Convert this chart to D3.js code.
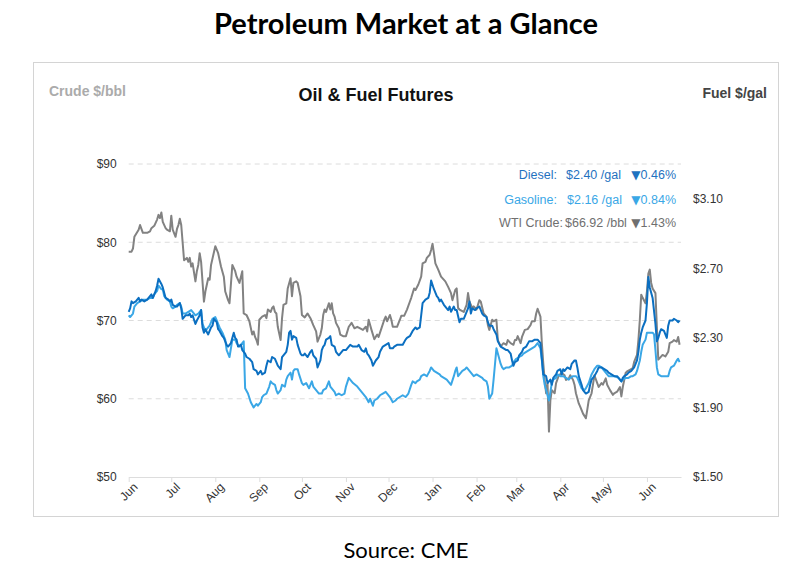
<!DOCTYPE html>
<html>
<head>
<meta charset="utf-8">
<script src="https://cdn.jsdelivr.net/npm/d3@7"></script>
<style>
  body { margin: 0; background: #fff; }
  svg text { font-family: "Liberation Sans", Arial, sans-serif; }
  .page-title { font-family: Lato, sans-serif; font-weight: 700; font-size: 29px; fill: #000; }
  .source { font-family: Lato, sans-serif; font-size: 22px; fill: #000; }
  .axis text { font-size: 12px; fill: #333; }
  .axis path, .axis line { stroke: #ddd; }
  .legend text { font-size: 12.5px; }
</style>
</head>
<body>
<div id="chart"></div>
<script>

// Texts
var pageTitle = "Petroleum Market at a Glance";
var chartTitle = "Oil & Fuel Futures";
var sourceText = "Source: CME";
var leftAxisTitle = "Crude $/bbl";
var rightAxisTitle = "Fuel $/gal";

// Ticks
var crudeTicks = [50, 60, 70, 80, 90];
var fuelTicks = [1.5, 1.9, 2.3, 2.7, 3.1];

// Legend
var legendLabels = ["Diesel:", "Gasoline:", "WTI Crude:"];
var legendPrices = ["$2.40 /gal", "$2.16 /gal", "$66.92 /bbl"];
var legendChanges = ["0.46%", "0.84%", "1.43%"];

// WTI crude futures, $/bbl
var wtiCrude = [["2024-06-01",78.8],["2024-06-03",78.8],["2024-06-04",79.2],["2024-06-05",80.7],["2024-06-08",81.6],["2024-06-09",82.2],["2024-06-11",81.2],["2024-06-14",81.2],["2024-06-16",81.4],["2024-06-17",81.8],["2024-06-19",82.1],["2024-06-21",82.9],["2024-06-22",83.5],["2024-06-23",83.1],["2024-06-24",83.8],["2024-06-25",82.6],["2024-06-27",81.8],["2024-06-28",81.6],["2024-06-30",81.4],["2024-07-01",83.4],["2024-07-02",81.6],["2024-07-04",80.7],["2024-07-05",81.7],["2024-07-06",82.2],["2024-07-07",83.0],["2024-07-08",82.2],["2024-07-10",77.7],["2024-07-12",78.0],["2024-07-13",77.5],["2024-07-14",78.0],["2024-07-15",76.9],["2024-07-16",77.3],["2024-07-18",75.0],["2024-07-19",76.3],["2024-07-20",77.1],["2024-07-21",78.6],["2024-07-22",77.5],["2024-07-24",72.4],["2024-07-25",73.7],["2024-07-27",75.4],["2024-07-28",75.2],["2024-07-29",77.1],["2024-08-01",79.5],["2024-08-03",78.6],["2024-08-05",76.9],["2024-08-07",75.6],["2024-08-08",73.7],["2024-08-10",72.6],["2024-08-11",72.2],["2024-08-13",77.1],["2024-08-15",76.3],["2024-08-16",75.6],["2024-08-18",74.8],["2024-08-20",76.3],["2024-08-21",70.9],["2024-08-23",70.7],["2024-08-25",69.9],["2024-08-27",68.2],["2024-08-28",68.6],["2024-08-29",67.9],["2024-08-30",67.5],["2024-08-31",66.9],["2024-09-01",70.1],["2024-09-03",70.5],["2024-09-05",70.7],["2024-09-06",70.3],["2024-09-07",71.4],["2024-09-09",71.1],["2024-09-10",71.6],["2024-09-11",71.8],["2024-09-12",71.1],["2024-09-13",70.9],["2024-09-14",69.2],["2024-09-16",67.5],["2024-09-17",70.3],["2024-09-18",72.0],["2024-09-20",72.2],["2024-09-21",74.1],["2024-09-23",75.4],["2024-09-24",73.1],["2024-09-25",74.8],["2024-09-27",75.0],["2024-09-28",74.8],["2024-09-30",73.1],["2024-10-01",70.7],["2024-10-03",70.4],["2024-10-05",70.9],["2024-10-07",70.3],["2024-10-09",69.4],["2024-10-11",68.6],["2024-10-12",67.3],["2024-10-14",68.2],["2024-10-15",69.0],["2024-10-16",70.7],["2024-10-17",71.4],["2024-10-18",71.1],["2024-10-20",72.2],["2024-10-21",71.4],["2024-10-22",72.2],["2024-10-23",70.9],["2024-10-24",70.5],["2024-10-25",69.7],["2024-10-27",69.0],["2024-10-28",68.2],["2024-10-30",68.0],["2024-11-01",68.0],["2024-11-03",69.2],["2024-11-05",69.7],["2024-11-07",69.0],["2024-11-09",69.2],["2024-11-11",69.0],["2024-11-13",68.8],["2024-11-15",69.2],["2024-11-16",68.6],["2024-11-17",70.1],["2024-11-19",68.8],["2024-11-21",67.6],["2024-11-23",68.2],["2024-11-24",67.9],["2024-11-26",69.0],["2024-11-28",70.1],["2024-11-29",70.5],["2024-11-30",69.9],["2024-12-02",70.7],["2024-12-03",70.1],["2024-12-04",69.2],["2024-12-07",69.2],["2024-12-09",70.1],["2024-12-10",70.6],["2024-12-12",70.6],["2024-12-14",71.4],["2024-12-16",72.4],["2024-12-17",72.9],["2024-12-19",74.1],["2024-12-20",73.9],["2024-12-22",74.6],["2024-12-24",75.6],["2024-12-25",77.3],["2024-12-27",77.5],["2024-12-28",78.0],["2024-12-30",78.4],["2024-12-31",79.0],["2025-01-01",79.8],["2025-01-02",78.6],["2025-01-03",77.3],["2025-01-05",76.5],["2025-01-07",75.6],["2025-01-10",75.0],["2025-01-12",74.3],["2025-01-14",73.5],["2025-01-15",72.6],["2025-01-17",73.9],["2025-01-18",74.1],["2025-01-19",71.6],["2025-01-20",71.4],["2025-01-23",71.1],["2025-01-25",72.0],["2025-01-26",73.5],["2025-01-27",72.4],["2025-01-29",71.6],["2025-01-30",71.8],["2025-02-01",71.4],["2025-02-03",72.6],["2025-02-04",72.4],["2025-02-06",70.9],["2025-02-08",70.5],["2025-02-09",69.4],["2025-02-10",68.8],["2025-02-12",70.1],["2025-02-13",69.9],["2025-02-15",70.1],["2025-02-16",67.5],["2025-02-18",66.7],["2025-02-20",67.1],["2025-02-22",66.9],["2025-02-23",67.5],["2025-02-25",67.1],["2025-02-27",66.9],["2025-02-28",67.5],["2025-03-01",67.5],["2025-03-02",68.0],["2025-03-04",67.1],["2025-03-05",67.9],["2025-03-07",68.8],["2025-03-09",68.9],["2025-03-11",69.4],["2025-03-12",69.9],["2025-03-14",69.9],["2025-03-15",70.9],["2025-03-16",71.5],["2025-03-18",70.5],["2025-03-19",67.1],["2025-03-20",64.5],["2025-03-21",62.4],["2025-03-22",60.7],["2025-03-23",62.0],["2025-03-24",55.8],["2025-03-25",59.8],["2025-03-26",61.1],["2025-03-28",60.7],["2025-03-29",62.0],["2025-03-31",63.0],["2025-04-02",63.3],["2025-04-04",63.0],["2025-04-05",62.4],["2025-04-07",62.6],["2025-04-08",63.0],["2025-04-10",62.4],["2025-04-11",61.8],["2025-04-12",60.7],["2025-04-14",59.4],["2025-04-15",59.0],["2025-04-17",58.1],["2025-04-19",57.5],["2025-04-20",58.6],["2025-04-21",59.8],["2025-04-23",60.7],["2025-04-24",61.8],["2025-04-25",63.0],["2025-04-27",62.0],["2025-04-28",61.5],["2025-04-30",62.0],["2025-05-01",61.8],["2025-05-03",62.6],["2025-05-04",61.8],["2025-05-06",61.1],["2025-05-08",60.5],["2025-05-09",60.7],["2025-05-11",60.9],["2025-05-13",61.5],["2025-05-14",60.3],["2025-05-15",61.5],["2025-05-17",63.3],["2025-05-18",63.5],["2025-05-20",63.7],["2025-05-22",63.9],["2025-05-23",64.7],["2025-05-25",65.6],["2025-05-26",67.5],["2025-05-27",70.1],["2025-05-28",73.3],["2025-05-29",72.9],["2025-05-31",72.2],["2025-06-01",73.7],["2025-06-02",76.0],["2025-06-03",76.5],["2025-06-04",74.8],["2025-06-05",74.1],["2025-06-07",73.5],["2025-06-08",69.2],["2025-06-09",65.0],["2025-06-10",65.2],["2025-06-12",65.6],["2025-06-14",65.4],["2025-06-16",66.0],["2025-06-17",67.1],["2025-06-19",67.3],["2025-06-20",67.5],["2025-06-22",67.3],["2025-06-23",67.9],["2025-06-24",66.9]];

// Diesel futures, $/gal
var diesel = [["2024-06-01",2.45],["2024-06-02",2.47],["2024-06-03",2.51],["2024-06-04",2.50],["2024-06-06",2.51],["2024-06-08",2.53],["2024-06-09",2.51],["2024-06-10",2.52],["2024-06-12",2.51],["2024-06-14",2.52],["2024-06-15",2.53],["2024-06-17",2.55],["2024-06-18",2.53],["2024-06-19",2.55],["2024-06-20",2.57],["2024-06-21",2.60],["2024-06-22",2.64],["2024-06-24",2.61],["2024-06-25",2.59],["2024-06-26",2.56],["2024-06-27",2.53],["2024-06-29",2.52],["2024-06-30",2.51],["2024-07-01",2.52],["2024-07-02",2.49],["2024-07-04",2.48],["2024-07-05",2.48],["2024-07-07",2.50],["2024-07-08",2.47],["2024-07-09",2.41],["2024-07-11",2.43],["2024-07-13",2.43],["2024-07-14",2.44],["2024-07-15",2.42],["2024-07-16",2.43],["2024-07-18",2.38],["2024-07-19",2.40],["2024-07-21",2.43],["2024-07-22",2.46],["2024-07-23",2.36],["2024-07-24",2.33],["2024-07-25",2.35],["2024-07-27",2.32],["2024-07-28",2.34],["2024-07-29",2.36],["2024-07-30",2.37],["2024-07-31",2.41],["2024-08-02",2.39],["2024-08-03",2.35],["2024-08-04",2.34],["2024-08-06",2.31],["2024-08-07",2.30],["2024-08-09",2.26],["2024-08-10",2.25],["2024-08-12",2.27],["2024-08-14",2.33],["2024-08-15",2.30],["2024-08-16",2.29],["2024-08-17",2.25],["2024-08-19",2.26],["2024-08-20",2.23],["2024-08-22",2.21],["2024-08-23",2.19],["2024-08-25",2.18],["2024-08-27",2.16],["2024-08-28",2.12],["2024-08-30",2.11],["2024-08-31",2.09],["2024-09-02",2.11],["2024-09-03",2.09],["2024-09-05",2.10],["2024-09-06",2.14],["2024-09-07",2.17],["2024-09-09",2.16],["2024-09-10",2.19],["2024-09-12",2.18],["2024-09-13",2.16],["2024-09-14",2.14],["2024-09-16",2.12],["2024-09-17",2.19],["2024-09-18",2.20],["2024-09-20",2.22],["2024-09-21",2.26],["2024-09-22",2.33],["2024-09-23",2.34],["2024-09-24",2.29],["2024-09-25",2.31],["2024-09-27",2.30],["2024-09-28",2.26],["2024-09-30",2.21],["2024-10-01",2.20],["2024-10-02",2.20],["2024-10-03",2.21],["2024-10-05",2.19],["2024-10-07",2.22],["2024-10-08",2.23],["2024-10-09",2.20],["2024-10-11",2.18],["2024-10-12",2.13],["2024-10-14",2.17],["2024-10-15",2.23],["2024-10-16",2.25],["2024-10-17",2.26],["2024-10-18",2.29],["2024-10-20",2.30],["2024-10-21",2.31],["2024-10-22",2.26],["2024-10-24",2.25],["2024-10-25",2.22],["2024-10-27",2.20],["2024-10-28",2.21],["2024-10-30",2.23],["2024-11-01",2.23],["2024-11-03",2.25],["2024-11-04",2.26],["2024-11-06",2.25],["2024-11-09",2.25],["2024-11-10",2.26],["2024-11-12",2.23],["2024-11-14",2.22],["2024-11-15",2.24],["2024-11-16",2.21],["2024-11-17",2.20],["2024-11-19",2.17],["2024-11-20",2.14],["2024-11-22",2.17],["2024-11-24",2.19],["2024-11-25",2.22],["2024-11-27",2.25],["2024-11-29",2.26],["2024-12-01",2.27],["2024-12-02",2.24],["2024-12-04",2.24],["2024-12-05",2.25],["2024-12-07",2.26],["2024-12-09",2.26],["2024-12-11",2.26],["2024-12-13",2.29],["2024-12-14",2.30],["2024-12-16",2.31],["2024-12-18",2.34],["2024-12-20",2.36],["2024-12-21",2.35],["2024-12-23",2.36],["2024-12-24",2.43],["2024-12-25",2.50],["2024-12-26",2.51],["2024-12-27",2.52],["2024-12-29",2.53],["2024-12-30",2.56],["2024-12-31",2.63],["2025-01-02",2.58],["2025-01-03",2.56],["2025-01-04",2.54],["2025-01-05",2.53],["2025-01-06",2.51],["2025-01-07",2.52],["2025-01-09",2.49],["2025-01-10",2.48],["2025-01-12",2.46],["2025-01-13",2.48],["2025-01-14",2.45],["2025-01-16",2.48],["2025-01-17",2.46],["2025-01-18",2.46],["2025-01-20",2.39],["2025-01-21",2.41],["2025-01-23",2.41],["2025-01-24",2.43],["2025-01-26",2.47],["2025-01-27",2.51],["2025-01-28",2.44],["2025-01-29",2.47],["2025-01-31",2.46],["2025-02-01",2.47],["2025-02-03",2.48],["2025-02-05",2.44],["2025-02-06",2.43],["2025-02-08",2.42],["2025-02-09",2.39],["2025-02-10",2.37],["2025-02-12",2.37],["2025-02-13",2.35],["2025-02-15",2.32],["2025-02-16",2.28],["2025-02-18",2.25],["2025-02-20",2.24],["2025-02-22",2.23],["2025-02-23",2.23],["2025-02-25",2.21],["2025-02-26",2.17],["2025-02-27",2.14],["2025-02-28",2.16],["2025-03-02",2.17],["2025-03-03",2.20],["2025-03-05",2.22],["2025-03-06",2.24],["2025-03-08",2.25],["2025-03-10",2.28],["2025-03-12",2.28],["2025-03-14",2.29],["2025-03-15",2.29],["2025-03-16",2.29],["2025-03-18",2.27],["2025-03-19",2.18],["2025-03-20",2.09],["2025-03-22",2.08],["2025-03-23",2.04],["2025-03-25",2.06],["2025-03-26",2.03],["2025-03-27",2.07],["2025-03-29",2.09],["2025-03-30",2.11],["2025-04-01",2.12],["2025-04-02",2.09],["2025-04-03",2.12],["2025-04-04",2.11],["2025-04-06",2.13],["2025-04-08",2.12],["2025-04-09",2.15],["2025-04-11",2.17],["2025-04-12",2.17],["2025-04-13",2.13],["2025-04-14",2.08],["2025-04-16",2.03],["2025-04-17",2.00],["2025-04-18",1.99],["2025-04-19",1.98],["2025-04-21",1.99],["2025-04-22",2.03],["2025-04-23",2.06],["2025-04-25",2.08],["2025-04-27",2.11],["2025-04-28",2.13],["2025-04-30",2.13],["2025-05-02",2.12],["2025-05-04",2.11],["2025-05-05",2.10],["2025-05-07",2.09],["2025-05-09",2.08],["2025-05-11",2.08],["2025-05-12",2.07],["2025-05-14",2.05],["2025-05-15",2.07],["2025-05-16",2.08],["2025-05-18",2.09],["2025-05-19",2.10],["2025-05-21",2.11],["2025-05-23",2.13],["2025-05-25",2.17],["2025-05-26",2.22],["2025-05-27",2.29],["2025-05-28",2.33],["2025-05-29",2.36],["2025-05-31",2.40],["2025-06-01",2.50],["2025-06-02",2.65],["2025-06-03",2.59],["2025-06-04",2.56],["2025-06-05",2.53],["2025-06-07",2.38],["2025-06-08",2.28],["2025-06-09",2.30],["2025-06-10",2.33],["2025-06-11",2.35],["2025-06-13",2.34],["2025-06-15",2.30],["2025-06-16",2.37],["2025-06-17",2.40],["2025-06-19",2.40],["2025-06-20",2.41],["2025-06-22",2.40],["2025-06-23",2.39],["2025-06-24",2.40]];

// RBOB gasoline futures, $/gal
var gasoline = [["2024-06-01",2.43],["2024-06-02",2.42],["2024-06-04",2.44],["2024-06-05",2.48],["2024-06-07",2.50],["2024-06-09",2.51],["2024-06-11",2.52],["2024-06-14",2.52],["2024-06-16",2.53],["2024-06-18",2.53],["2024-06-19",2.55],["2024-06-21",2.57],["2024-06-22",2.60],["2024-06-24",2.58],["2024-06-25",2.58],["2024-06-26",2.54],["2024-06-28",2.52],["2024-06-30",2.51],["2024-07-01",2.48],["2024-07-02",2.47],["2024-07-04",2.48],["2024-07-05",2.49],["2024-07-07",2.50],["2024-07-08",2.48],["2024-07-09",2.44],["2024-07-11",2.44],["2024-07-13",2.45],["2024-07-15",2.46],["2024-07-16",2.45],["2024-07-18",2.43],["2024-07-20",2.44],["2024-07-22",2.46],["2024-07-23",2.38],["2024-07-25",2.34],["2024-07-26",2.35],["2024-07-28",2.37],["2024-07-30",2.41],["2024-08-01",2.42],["2024-08-02",2.40],["2024-08-04",2.36],["2024-08-06",2.33],["2024-08-08",2.29],["2024-08-09",2.23],["2024-08-11",2.19],["2024-08-13",2.29],["2024-08-15",2.29],["2024-08-16",2.27],["2024-08-18",2.25],["2024-08-20",2.27],["2024-08-21",2.28],["2024-08-22",2.01],["2024-08-24",1.98],["2024-08-26",1.93],["2024-08-28",1.90],["2024-08-30",1.92],["2024-08-31",1.91],["2024-09-02",1.93],["2024-09-03",1.96],["2024-09-04",1.97],["2024-09-06",1.98],["2024-09-08",2.02],["2024-09-09",2.05],["2024-09-10",2.04],["2024-09-12",2.03],["2024-09-13",2.00],["2024-09-14",1.98],["2024-09-16",2.00],["2024-09-17",2.03],["2024-09-19",2.02],["2024-09-20",2.06],["2024-09-21",2.08],["2024-09-23",2.10],["2024-09-24",2.06],["2024-09-25",2.11],["2024-09-26",2.12],["2024-09-28",2.12],["2024-09-29",2.09],["2024-10-01",2.04],["2024-10-02",2.03],["2024-10-04",2.04],["2024-10-06",2.01],["2024-10-08",2.05],["2024-10-09",2.02],["2024-10-11",2.00],["2024-10-13",1.98],["2024-10-15",1.98],["2024-10-16",2.00],["2024-10-18",2.01],["2024-10-20",2.05],["2024-10-21",2.02],["2024-10-22",2.01],["2024-10-24",1.99],["2024-10-25",1.97],["2024-10-27",1.98],["2024-10-29",1.97],["2024-10-31",1.98],["2024-11-01",2.02],["2024-11-03",2.07],["2024-11-04",2.06],["2024-11-06",2.04],["2024-11-09",2.02],["2024-11-11",2.00],["2024-11-13",1.98],["2024-11-15",1.96],["2024-11-17",1.93],["2024-11-18",1.95],["2024-11-20",1.91],["2024-11-21",1.94],["2024-11-23",1.95],["2024-11-25",1.97],["2024-11-27",1.98],["2024-11-29",1.99],["2024-11-30",1.98],["2024-12-02",1.96],["2024-12-04",1.93],["2024-12-06",1.94],["2024-12-07",1.95],["2024-12-09",1.96],["2024-12-11",1.97],["2024-12-13",1.96],["2024-12-15",1.98],["2024-12-17",2.03],["2024-12-18",2.05],["2024-12-20",2.04],["2024-12-21",2.05],["2024-12-23",2.06],["2024-12-24",2.08],["2024-12-26",2.09],["2024-12-28",2.08],["2024-12-30",2.11],["2024-12-31",2.13],["2025-01-02",2.11],["2025-01-04",2.10],["2025-01-06",2.09],["2025-01-07",2.08],["2025-01-09",2.07],["2025-01-11",2.06],["2025-01-13",2.04],["2025-01-14",2.03],["2025-01-16",2.08],["2025-01-17",2.11],["2025-01-18",2.13],["2025-01-19",2.08],["2025-01-20",2.09],["2025-01-22",2.11],["2025-01-24",2.12],["2025-01-25",2.13],["2025-01-27",2.11],["2025-01-28",2.10],["2025-01-30",2.08],["2025-02-01",2.09],["2025-02-03",2.08],["2025-02-05",2.07],["2025-02-06",2.06],["2025-02-08",2.05],["2025-02-09",2.02],["2025-02-10",1.95],["2025-02-12",1.98],["2025-02-13",2.06],["2025-02-14",2.15],["2025-02-15",2.24],["2025-02-16",2.21],["2025-02-18",2.15],["2025-02-19",2.13],["2025-02-20",2.12],["2025-02-22",2.13],["2025-02-24",2.13],["2025-02-26",2.14],["2025-02-27",2.16],["2025-03-01",2.18],["2025-03-03",2.19],["2025-03-05",2.20],["2025-03-06",2.21],["2025-03-08",2.22],["2025-03-10",2.23],["2025-03-12",2.24],["2025-03-14",2.25],["2025-03-15",2.26],["2025-03-16",2.27],["2025-03-18",2.24],["2025-03-19",2.17],["2025-03-20",2.08],["2025-03-21",2.03],["2025-03-22",2.00],["2025-03-24",1.94],["2025-03-25",1.99],["2025-03-26",2.04],["2025-03-27",2.06],["2025-03-29",2.07],["2025-03-30",2.09],["2025-04-01",2.08],["2025-04-03",2.08],["2025-04-05",2.07],["2025-04-07",2.06],["2025-04-08",2.07],["2025-04-10",2.08],["2025-04-12",2.08],["2025-04-13",2.07],["2025-04-15",2.03],["2025-04-16",2.01],["2025-04-18",2.00],["2025-04-19",2.01],["2025-04-21",2.04],["2025-04-23",2.09],["2025-04-25",2.12],["2025-04-27",2.14],["2025-04-28",2.14],["2025-04-30",2.13],["2025-05-02",2.11],["2025-05-04",2.09],["2025-05-05",2.08],["2025-05-07",2.08],["2025-05-09",2.08],["2025-05-12",2.07],["2025-05-14",2.05],["2025-05-15",2.06],["2025-05-17",2.07],["2025-05-19",2.07],["2025-05-21",2.08],["2025-05-22",2.08],["2025-05-24",2.09],["2025-05-25",2.11],["2025-05-27",2.17],["2025-05-28",2.22],["2025-05-29",2.26],["2025-05-31",2.29],["2025-06-01",2.33],["2025-06-03",2.33],["2025-06-05",2.33],["2025-06-06",2.32],["2025-06-07",2.23],["2025-06-08",2.13],["2025-06-09",2.09],["2025-06-11",2.08],["2025-06-13",2.08],["2025-06-15",2.08],["2025-06-16",2.08],["2025-06-17",2.11],["2025-06-18",2.13],["2025-06-20",2.14],["2025-06-22",2.17],["2025-06-23",2.18],["2025-06-24",2.16]];

var parseDate = d3.timeParse("%Y-%m-%d");
function toPoints(arr) {
  return arr.map(function(d){ return { date: parseDate(d[0]), value: d[1] }; });
}

var colors = { diesel: "#0b6fc1", gasoline: "#3aa7e6", crude: "#828282" };
var textColors = ["#1f72c0", "#3aa7e6", "#6f6f6f"];

var width = 812, height = 579;
var plot = { left: 128.7, right: 681, top: 164, bottom: 477 };

var svg = d3.select("#chart").append("svg")
  .attr("width", width)
  .attr("height", height);

svg.append("text")
  .attr("class", "page-title")
  .attr("x", 406)
  .attr("y", 34)
  .attr("text-anchor", "middle")
  .text(pageTitle);

svg.append("rect")
  .attr("x", 33.5)
  .attr("y", 62.5)
  .attr("width", 745)
  .attr("height", 454)
  .attr("fill", "none")
  .attr("stroke", "#d4d4d4");

svg.append("text")
  .attr("class", "source")
  .attr("x", 406)
  .attr("y", 558)
  .attr("text-anchor", "middle")
  .text(sourceText);

// Scales
var x = d3.scaleTime()
  .domain([parseDate("2024-06-01"), parseDate("2025-06-25")])
  .range([plot.left, plot.right]);
var yCrude = d3.scaleLinear().domain([50, 90]).range([plot.bottom, plot.top]);
var yFuel = d3.scaleLinear().domain([1.5, 3.3]).range([plot.bottom, plot.top]);

// Gridlines
svg.append("g").selectAll("line")
  .data(crudeTicks.slice(1))
  .enter().append("line")
  .attr("x1", plot.left)
  .attr("x2", plot.right)
  .attr("y1", function(d){ return yCrude(d); })
  .attr("y2", function(d){ return yCrude(d); })
  .attr("stroke", "#dcdcdc")
  .attr("stroke-dasharray", "5,4");

// Axes
var xAxis = d3.axisBottom(x)
  .ticks(d3.timeMonth.every(1))
  .tickFormat(d3.timeFormat("%b"))
  .tickSize(5)
  .tickSizeOuter(0);
var xAxisGroup = svg.append("g")
  .attr("class", "x-axis axis")
  .attr("transform", "translate(0," + plot.bottom + ")")
  .call(xAxis);
xAxisGroup.selectAll("text")
  .attr("font-size", 11)
  .style("text-anchor", "end")
  .attr("dx", "-0.1em")
  .attr("dy", "0.6em")
  .attr("y", 7)
  .attr("transform", "rotate(-45)");

var yAxisLeft = d3.axisLeft(yCrude)
  .tickValues(crudeTicks)
  .tickFormat(function(d){ return "$" + d; })
  .tickSize(0)
  .tickPadding(12);
svg.append("g")
  .attr("class", "y-axis axis")
  .attr("transform", "translate(" + plot.left + ",0)")
  .call(yAxisLeft)
  .call(function(g){ g.select(".domain").remove(); });

var yAxisRight = d3.axisRight(yFuel)
  .tickValues(fuelTicks)
  .tickFormat(d3.format("$.2f"))
  .tickSize(0)
  .tickPadding(12);
svg.append("g")
  .attr("class", "y-axis axis")
  .attr("transform", "translate(" + plot.right + ",0)")
  .call(yAxisRight)
  .call(function(g){ g.select(".domain").remove(); });

// Axis titles and chart title
svg.append("text")
  .attr("x", 49).attr("y", 96)
  .attr("font-size", 14).attr("font-weight", "bold")
  .attr("fill", "#ababab")
  .text(leftAxisTitle);
svg.append("text")
  .attr("x", 767).attr("y", 98)
  .attr("text-anchor", "end")
  .attr("font-size", 14).attr("font-weight", "bold")
  .attr("fill", "#444")
  .text(rightAxisTitle);
svg.append("text")
  .attr("x", 376).attr("y", 101)
  .attr("text-anchor", "middle")
  .attr("font-size", 18).attr("font-weight", "bold")
  .attr("fill", "#111")
  .text(chartTitle);

// Lines
var crudeLine = d3.line()
  .x(function(d){ return x(d.date); })
  .y(function(d){ return yCrude(d.value); });
var fuelLine = d3.line()
  .x(function(d){ return x(d.date); })
  .y(function(d){ return yFuel(d.value); });

var series = [
  { data: toPoints(wtiCrude), line: crudeLine, color: colors.crude },
  { data: toPoints(gasoline), line: fuelLine, color: colors.gasoline },
  { data: toPoints(diesel), line: fuelLine, color: colors.diesel }
];

svg.append("g").selectAll("path")
  .data(series)
  .enter().append("path")
  .attr("fill", "none")
  .attr("stroke", function(d){ return d.color; })
  .attr("stroke-width", 2)
  .attr("stroke-linejoin", "round")
  .attr("d", function(d){ return d.line(d.data); });

// Legend (top right, inside plot)
var legendY = [179, 204, 227];
var labelEnd = [557, 557, 563];
var priceStart = [566, 567, 565];
var legend = svg.append("g").attr("class", "legend");
legendLabels.forEach(function(label, i){
  var row = legend.append("g").attr("fill", textColors[i]);
  row.append("text").attr("x", labelEnd[i]).attr("y", legendY[i])
    .attr("text-anchor", "end").text(label);
  row.append("text").attr("x", priceStart[i]).attr("y", legendY[i])
    .text(legendPrices[i]);
  var change = row.append("text").attr("x", 676).attr("y", legendY[i])
    .attr("text-anchor", "end");
  change.append("tspan")
    .attr("font-family", "DejaVu Sans").attr("font-size", 12)
    .text("\u25BC");
  change.append("tspan").text(legendChanges[i]);
});

</script>
</body>
</html>
